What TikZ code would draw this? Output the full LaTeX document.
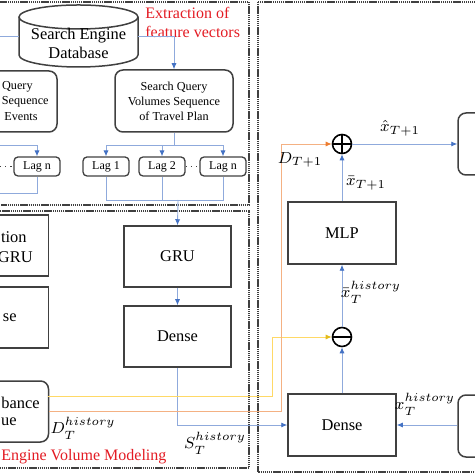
\documentclass[tikz,border=0pt]{standalone}
\usepackage{fontspec}
\setmainfont{Liberation Serif}
\usetikzlibrary{arrows.meta,positioning}
\definecolor{linkblue}{HTML}{8FAADC}
\definecolor{tipblue}{HTML}{4472C4}
\definecolor{distyellow}{HTML}{FFD966}
\definecolor{tipyellow}{HTML}{E3BC1C}
\definecolor{distorange}{HTML}{F4B183}
\definecolor{tiporange}{HTML}{ED7D31}
\definecolor{framegray}{HTML}{404040}
\definecolor{titlered}{HTML}{E31B23}
\tikzset{
  layer/.style={draw=framegray, line width=0.75pt, minimum width=53.5pt, minimum height=30.5pt,
    inner sep=0pt, font=\fontsize{8.2}{9.5}\selectfont},
  roundbox/.style={layer, rounded corners=4pt},
  lagbox/.style={draw=framegray, line width=0.65pt, rounded corners=2pt, minimum width=23pt,
    minimum height=9.5pt, inner sep=0pt, font=\fontsize{6}{7}\selectfont},
  op/.style={circle, draw=black, line width=0.8pt, minimum size=9.5pt, inner sep=0pt},
  frag/.style={inner sep=0pt, font=\fontsize{8.2}{9.5}\selectfont},
  lbl/.style={inner sep=0pt, font=\fontsize{8.3}{9.5}\selectfont},
  redtitle/.style={inner sep=0pt, text=titlered, align=left, font=\fontsize{8}{9.5}\selectfont},
  frame/.style={draw=framegray, line width=0.6pt, dash pattern=on 0.7pt off 0.35pt},
  linkline/.style={draw=linkblue, line width=0.45pt},
  link/.style={linkline, -{Latex[length=3pt,width=2.6pt,color=tipblue]}},
  ylink/.style={draw=distyellow, line width=0.45pt, -{Latex[length=3pt,width=2.6pt,color=tipyellow]}},
  olink/.style={draw=distorange, line width=0.45pt, -{Latex[length=3pt,width=2.6pt,color=tiporange]}},
  dots/.style={draw=framegray, line width=0.6pt, dotted}
}
\begin{document}
\begin{tikzpicture}[x=0.5pt, y=-0.5pt]
  \useasboundingbox (0,0) rectangle (474,474);
  % Dashed frames
  \draw[frame] (-10,2) rectangle (249,205);
  \draw[frame] (-10,211) rectangle (249,468);
  \draw[frame] (258,2) rectangle (490,472);
  % Titles
  \node[redtitle, anchor=west] (ttlext) at (145,22) {Extraction of\\feature vectors};
  \node[redtitle, anchor=west] (ttlmod) at (1,457) {Engine Volume Modeling};

  % Database (cylinder)
  \draw[framegray, line width=0.75pt, fill=white] (19,17) -- (19,55)
    arc[start angle=180, end angle=0, x radius=59.5, y radius=12] -- (138,17);
  \draw[framegray, line width=0.75pt] (78.5,17) ellipse [x radius=59.5, y radius=12];
  \node[frag, align=center] (db) at (78.5,43) {Search Engine\\Database};
  \coordinate (dbl) at (19,36);
  \coordinate (dbr) at (138,36);
  \coordinate (offl) at (0,36);

  % Query volume sequences
  \node[roundbox, minimum width=58.5pt, minimum height=30.5pt] (evq) at (-1.5,101.5) {};
  \foreach \t/\x/\y in {Query/33/87, Sequence/49/102, Events/38/117}
    \node[inner sep=0pt, anchor=east, font=\fontsize{6.1}{7.5}\selectfont] (evq\t) at (\x,\y) {\t};
  \node[roundbox, minimum width=59pt, minimum height=31pt, align=center,
    font=\fontsize{6.1}{7.5}\selectfont] (sqv) at (174,101)
    {Search Query\\Volumes Sequence\\of Travel Plan};

  % Lags
  \node[lagbox] (lagl) at (37,166.5) {Lag n};
  \node[lagbox] (lag1) at (106,166.5) {Lag 1};
  \node[lagbox] (lag2) at (162,166.5) {Lag 2};
  \node[lagbox] (lagn) at (223,166.5) {Lag n};
  \draw[dots] (lag2) -- (lagn);
  \coordinate (dotl) at (0,166.5);
  \draw[dots] (dotl) -- (lagl);

  % Extraction links
  \draw[linkline] (offl) -- (dbl);
  \draw[link] (dbr) -| (sqv.north);
  \coordinate (split) at (174,145);
  \draw[linkline] (sqv.south) -- (split);
  \draw[link] (split) -| (lag1.north);
  \draw[link] (split) -| (lagn.north);
  \draw[link] (lag2.north |- split) -- (lag2.north);
  \coordinate (splitl) at (0,145);
  \draw[link] (splitl) -| (lagl.north);
  \coordinate (merge) at (178,200);
  \coordinate (mergel) at (0,193);
  \draw[linkline] (lag1.south) |- (merge);
  \draw[linkline] (lagn.south) |- (merge);
  \draw[linkline] (lag2.south) -- (lag2.south |- merge);
  \draw[linkline] (lagl.south) |- (mergel);

  % Modeling blocks
  \node[layer] (attn) at (-5,245.5) {};
  \node[frag, anchor=east] (attn1) at (27,237) {tion};
  \node[frag, anchor=east] (attn2) at (33,257) {GRU};
  \node[layer] (dsl) at (-5,317.5) {};
  \node[frag, anchor=east] (dsl1) at (17,318) {se};
  \node[roundbox] (dist) at (-5,411.5) {};
  \node[frag, anchor=east] (dist1) at (40,403) {bance};
  \node[frag, anchor=east] (dist2) at (17,422) {ue};
  \node[layer] (gru) at (177.5,256.5) {GRU};
  \node[layer] (dns) at (177.5,336.5) {Dense};
  \draw[link] (merge) -- (gru.north);
  \draw[link] (gru) -- (dns);

  % Forecasting blocks
  \node[layer, minimum width=54pt, minimum height=31pt] (mlp) at (342,233) {MLP};
  \node[layer, minimum width=54pt, minimum height=31pt] (dnr) at (342,425) {Dense};
  \node[op, path picture={\draw[line width=0.8pt] (path picture bounding box.north) -- (path picture bounding box.south)
    (path picture bounding box.west) -- (path picture bounding box.east);}] (plus) at (342,144) {};
  \node[op, path picture={\draw[line width=0.8pt] (path picture bounding box.west) -- (path picture bounding box.east);}]
    (minus) at (342,337) {};
  \node[roundbox, minimum width=41pt, minimum height=31pt] (out) at (499,144) {};
  \node[roundbox, minimum width=41pt, minimum height=31pt] (inp) at (499,426) {};

  % Forecasting links
  \draw[link] (dns.south) |- (dnr.west);
  \draw[link] (inp.west |- dnr.east) -- (dnr.east);
  \draw[link] (dnr) -- (minus);
  \draw[link] (minus) -- (mlp);
  \draw[link] (mlp) -- (plus);
  \draw[link] (plus.east) -- (out.west |- plus.east);
  % Disturbance links
  \coordinate (ylw) at (48,396);
  \coordinate (ybend) at (272,337);
  \coordinate (obend) at (281,144);
  \draw[ylink] (ylw) -| (ybend) -- (minus.west);
  \draw[olink] (dist.east) -| (obend) -- (plus.west);

  % Labels
  \node[lbl] (lxhat) at (400,128) {$\hat{x}_{T+1}$};
  \node[lbl] (ldnext) at (300,160) {$D_{T+1}$};
  \node[lbl] (lxbar) at (366,183) {$\bar{x}_{T+1}$};
  \node[lbl] (lxbarh) at (371,292) {$\bar{x}_T^{history}$};
  \node[lbl] (lxh) at (425,404) {$x_T^{history}$};
  \node[lbl] (ldh) at (83,428) {$D_T^{history}$};
  \node[lbl] (lsh) at (215,443) {$S_T^{history}$};
\end{tikzpicture}
\end{document}
